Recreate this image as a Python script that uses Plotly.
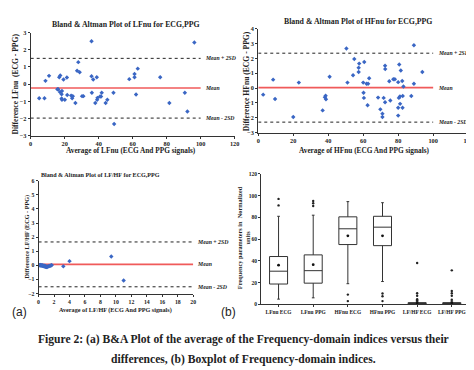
import plotly.graph_objects as go

W, H = 474, 370
SERIF = "Liberation Serif, Times New Roman, serif"
SANS = "Liberation Sans, Arial, sans-serif"
BLUE = "#3a66c4"
RED = "#f05a5a"

# ---------------- data: B&A LFnu ----------------
lf_avg = [5, 8.1, 8.7, 10.8, 15.7, 16.2, 16.8, 17.2, 17.4, 18.2, 18.2, 18.4, 18.4, 19.3,
          20.1, 21.3, 21.5, 23.8, 24.4, 24.8, 26.3, 27.3, 28, 28.8, 30.2, 31, 35.8, 35.8,
          36, 36.8, 38, 38.9, 39.1, 39.3, 40.8, 41.4, 41.8, 44.1, 45.1, 48.7, 49.1, 58,
          61.1, 61.1, 62, 63, 76.2, 81.6, 90.7, 92.2, 96.3]
lf_diff = [-0.82, -0.82, 0.19, 0.48, -0.3, -0.3, 0.4, -0.46, 0.5, -0.59, -0.84, -0.4, -0.91, 0.27,
           -0.91, 0.38, -0.63, -0.67, -0.82, -0.7, -1.1, 0.78, 1.28, 0.69, -0.7, -0.7, 2.5, 0.46,
           -0.5, 0.27, -1.1, 0.4, -0.91, -0.8, -0.72, -0.72, -0.5, -1.1, -0.91, -0.5, -2.32, 0.29,
           0.4, 0.59, -0.61, 0.9, 0.4, -1.1, -0.5, -1.6, 2.42]
lf_lines = [1.50, -0.23, -1.98]   # mean+2SD, mean, mean-2SD

# ---------------- data: B&A HFnu ----------------
hf_avg = [2.8, 8.5, 9.6, 20, 23.2, 38.1, 38.5, 38.7, 40.8, 36.8, 50.4, 51, 54.2, 54.9, 57.4,
          57.4, 57.7, 60, 60.2, 60.4, 60.6, 61.9, 62.8, 62.5, 63.4, 68.5, 69.8, 71, 71, 71.7,
          72.5, 72.5, 72.6, 74.9, 75.5, 77.2, 78.1, 80, 80, 80, 80.4, 80.6, 81, 81.1, 81.5,
          82.3, 82.5, 82.6, 83, 87.5, 89, 89, 93.8]
hf_diff = [-0.44, 0.57, -0.73, -1.94, 0.37, -0.62, -0.51, -0.75, 0.77, -1.5, 2.67, 0.37, 0.86, 1.96, 1.08,
           1.37, 1.65, 0.37, -0.31, -0.66, 1.76, 0.29, 0.29, -1.15, 0.66, -0.64, -1.43, -1.72, -1.94, -0.66,
           -0.95, 1.5, 1.28, 0.46, -0.84, 0.6, 0.6, -1.32, -1.85, 0.4, -0.66, 1.59, -0.57, -1.06, 1.19,
           0.48, -1.32, -0.53, 0.11, -0.53, 2.88, 0.29, 1.08]
hf_lines = [2.35, 0.03, -2.29]

# ---------------- data: B&A LF/HF ----------------
lfhf_avg = [0.1, 0.15, 0.2, 0.25, 0.3, 0.35, 0.4, 0.45, 0.5, 0.55, 0.6, 0.65, 0.7, 0.75, 0.8,
            0.85, 0.9, 0.95, 1.0, 1.05, 1.1, 1.2, 1.3, 1.45, 1.55, 1.65, 1.7, 3.2, 4.0, 9.4, 11.0]
lfhf_diff = [0.02, 0.0, 0.03, -0.01, 0.02, 0.0, -0.02, 0.01, -0.03, 0.0, -0.04, -0.02, -0.06, -0.03, -0.08,
             -0.05, -0.1, -0.07, -0.12, -0.09, -0.11, -0.08, -0.06, -0.04, -0.02, 0.0, 0.02, -0.07, 0.3, 0.63, -1.07]
lfhf_lines = [1.66, 0.07, -1.52]

# ---------------- data: boxplot ----------------
box_cats = ["LFnu ECG", "LFnu PPG", "HFnu ECG", "HFnu PPG", "LF/HF ECG", "LF/HF PPG"]
box_q1 = [18.7, 19.5, 55, 54, 0.4, 0.4]
box_med = [30.5, 31, 69.5, 71, 0.8, 0.8]
box_q3 = [44, 45.5, 80.5, 81, 1.6, 1.6]
box_lo = [4.8, 6, 19, 21, 0.05, 0.05]
box_hi = [81, 82, 94.5, 93.5, 3.0, 3.0]
box_mean = [36, 36.5, 63, 63, 1.3, 1.3]
box_outliers = [[91, 97], [90.5, 93, 95], [9, 3], [10, 7.5, 3], [38, 10.2, 7.9, 4.8, 3.6], [31.3, 12.4, 10.2, 7.9, 4.2]]

line_labels = ["Mean + 2SD", "Mean", "Mean - 2SD"]


def xd(a, b):
    return [a / W, b / W]


def yd(top, bottom):
    return [1 - bottom / H, 1 - top / H]


fig = go.Figure()


def ba_panel(idx, avg, diff, lines, xmax_line):
    xs = "x" if idx == 1 else f"x{idx}"
    ys = "y" if idx == 1 else f"y{idx}"
    for k, v in enumerate(lines):
        fig.add_trace(go.Scatter(
            x=[0, xmax_line], y=[v, v], mode="lines", xaxis=xs, yaxis=ys,
            line=dict(color=RED if k == 1 else "#222222", width=1.6 if k == 1 else 1,
                      dash="solid" if k == 1 else "dot"),
            hoverinfo="skip", showlegend=False))
    fig.add_trace(go.Scatter(
        x=avg, y=diff, mode="markers", xaxis=xs, yaxis=ys,
        marker=dict(symbol="diamond", size=3.4, color=BLUE),
        showlegend=False))


ba_panel(1, lf_avg, lf_diff, lf_lines, 100)
ba_panel(2, hf_avg, hf_diff, hf_lines, 100)
ba_panel(3, lfhf_avg, lfhf_diff, lfhf_lines, 20)

# boxplot
for i, c in enumerate(box_cats):
    fig.add_trace(go.Box(
        x=[c], q1=[box_q1[i]], median=[box_med[i]], q3=[box_q3[i]],
        lowerfence=[box_lo[i]], upperfence=[box_hi[i]],
        xaxis="x4", yaxis="y4", boxpoints=False, width=0.52, whiskerwidth=0.15,
        line=dict(color="#333333", width=1), fillcolor="white", showlegend=False))
    fig.add_trace(go.Scatter(
        x=[c] * len(box_outliers[i]), y=box_outliers[i], mode="markers",
        xaxis="x4", yaxis="y4", marker=dict(size=2.4, color="#222222"), showlegend=False))
fig.add_trace(go.Scatter(
    x=box_cats, y=box_mean, mode="markers", xaxis="x4", yaxis="y4",
    marker=dict(size=2.8, color="#111111"), showlegend=False))


def tf(size):
    return dict(family=SERIF, size=size, color="#222222", weight="bold")


def axc(size):
    return dict(showgrid=False, zeroline=False, showline=True, linecolor="#333333", linewidth=1,
                ticks="outside", ticklen=2, tickwidth=1, tickcolor="#333333", tickfont=tf(size))


fig.update_layout(
    width=W, height=H, margin=dict(l=0, r=0, t=0, b=0),
    paper_bgcolor="white", plot_bgcolor="white", showlegend=False,
    xaxis=dict(domain=xd(21, 228), anchor="y", range=[0, 120], dtick=20, **axc(6.3)),
    yaxis=dict(domain=yd(21, 126), anchor="x", range=[-3, 3], dtick=1, **axc(6.3)),
    xaxis2=dict(domain=xd(252, 465), anchor="y2", range=[0, 120], dtick=20, **axc(6.3)),
    yaxis2=dict(domain=yd(17, 123), anchor="x2", range=[-3, 4], dtick=1, **axc(6.3)),
    xaxis3=dict(domain=xd(29, 186), anchor="y3", range=[0, 20], dtick=2, **axc(5.8)),
    yaxis3=dict(domain=yd(172, 287), anchor="x3", range=[-2, 6], dtick=1, **axc(5.8)),
    xaxis4=dict(domain=xd(255, 466), anchor="y4", type="category", range=[-0.5, 5.5], **axc(5.4)),
    yaxis4=dict(domain=yd(165, 298), anchor="x4", range=[0, 120], dtick=20, **axc(5.6)),
)


def ann(text, x, y, size=6.5, xref="paper", yref="paper", angle=0, xanchor="center",
        family=SERIF, bold=True, italic=False, color="#222222"):
    fig.add_annotation(text=text, x=x, y=y, xref=xref, yref=yref, showarrow=False,
                       textangle=angle, xanchor=xanchor, yanchor="middle",
                       font=dict(family=family, size=size, color=color,
                                 weight="bold" if bold else "normal",
                                 style="italic" if italic else "normal"))


def P(px, py):
    return px / W, 1 - py / H


# titles
ann("Bland &amp; Altman Plot of LFnu for ECG,PPG", *P(118, 13), size=7.8)
ann("Bland &amp; Altman Plot of HFnu for ECG,PPG", *P(353, 10), size=7.8)
ann("Bland &amp; Altman Plot of LF/HF for ECG,PPG", *P(92, 166), size=6.1)

# axis titles
ann("Difference LFnu  (ECG - PPG)", *P(6, 73), size=7.6, angle=-90)
ann("Average of LFnu (ECG And PPG signals)", *P(123, 141), size=7.3)
ann("Difference HFnu (ECG - PPG)", *P(240, 70), size=7.6, angle=-90)
ann("Average of HFnu (ECG And PPG signals)", *P(360, 141), size=7.3)
ann("Difference LF/HF (ECG - PPG)", *P(17, 229), size=6.2, angle=-90)
ann("Average of LF/HF (ECG And PPG signals)", *P(107, 304), size=6.2)
ann("Frequency parameters in  Normalized<br>units", *P(237, 230), size=6.3, angle=-90)

# line labels
for lines, xs, ys in [(lf_lines, "x", "y"), (hf_lines, "x2", "y2")]:
    for lab, v in zip(line_labels, lines):
        fig.add_annotation(text=lab, x=101.5, y=v, xref=xs, yref=ys, showarrow=False,
                           xanchor="left", yanchor="middle",
                           font=dict(family=SERIF, size=5.7, color="#222222",
                                     weight="bold", style="italic"))
for lab, v in zip(line_labels, lfhf_lines):
    fig.add_annotation(text=lab, x=188 / W, y=v, xref="paper", yref="y3", showarrow=False,
                       xanchor="left", yanchor="middle",
                       font=dict(family=SERIF, size=5.8, color="#222222",
                                 weight="bold", style="italic"))

# panel letters
ann("(a)", *P(10, 306), size=12, family=SANS, bold=False)
ann("(b)", *P(222, 306), size=12, family=SANS, bold=False)

# caption
ann("Figure 2: (a) B&amp;A Plot of the average of the Frequency-domain indices versus their",
    *P(237, 334), size=11.6)
ann("differences, (b) Boxplot of Frequency-domain indices.", *P(237, 354), size=11.6)

fig.write_html("out.html")
